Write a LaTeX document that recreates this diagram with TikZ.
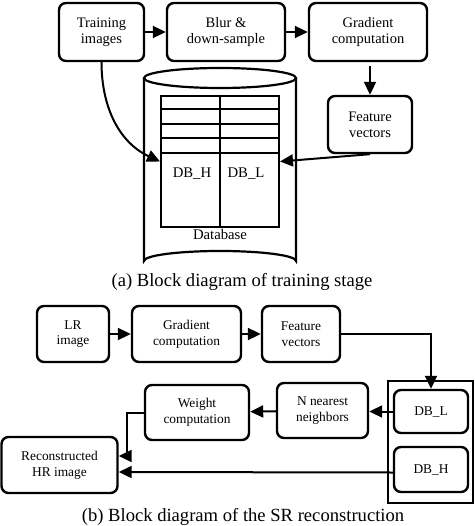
\documentclass[tikz,border=0pt]{standalone}
\usepackage{fontspec}
\setmainfont{Liberation Serif}
\usetikzlibrary{arrows.meta,positioning,calc}

\begin{document}
\begin{tikzpicture}[x=1pt, y=-1pt,
    blk/.style={draw, line width=2.4pt, rounded corners=7pt, align=center, inner sep=0pt, font=\fontsize{14.5}{16}\selectfont},
    sblk/.style={blk, font=\fontsize{13.4}{15.8}\selectfont},
    io/.style={font=\fontsize{14.7}{16}\selectfont, inner sep=0pt},
    captxt/.style={font=\fontsize{18.6}{20}\selectfont, inner sep=0pt},
    arr/.style={-{Triangle[length=13pt, width=12pt]}, line width=2pt}
]
\useasboundingbox (0,0) rectangle (474,526);

% Training stage
\node[blk, minimum width=85pt, minimum height=58pt] (ti) at (101.5,32) {Training\\images};
\node[blk, minimum width=118pt, minimum height=58pt] (bd) at (226,32) {Blur \&\\down-sample};
\node[blk, minimum width=118pt, minimum height=58pt] (gc) at (368,32) {Gradient\\computation};
\node[blk, minimum width=84pt, minimum height=57pt] (fv) at (370,124.5) {Feature\\vectors};
\draw[arr] (ti) -- (bd);
\draw[arr] (bd) -- (gc);
\draw[arr] ([yshift=-4pt]fv.north |- gc.south) -- (fv.north);

% database
\draw[line width=2.2pt] (144,78) -- (144,261) arc[start angle=180, end angle=360, x radius=76, y radius=10] -- (296,78);
\draw[line width=2.2pt] (220,78) ellipse[x radius=76, y radius=10];
\node[draw, line width=2pt, minimum width=118pt, minimum height=131pt, inner sep=0pt] (tbl) at (220,161.5) {};
\draw[line width=2pt] (tbl.north) -- (tbl.south);
\foreach \y in {109,124,138}
    \draw[line width=1.8pt] (tbl.west |- 0,\y) -- (tbl.east |- 0,\y);
\draw[line width=2.6pt] (tbl.west |- 0,153) -- (tbl.east |- 0,153);
\node[io] (dbh) at (192,174) {DB\_H};
\node[io] (dbl) at (246,174) {DB\_L};
\node[io] (db) at (220,234) {Database};
\draw[arr] (ti.south) to[out=-90, in=155] (tbl.west);
\draw[arr] (fv.south) -- (tbl.east);

\node[captxt] (capa) at (242,282) {(a) Block diagram of training stage};

% SR reconstruction
\node[sblk, minimum width=72pt, minimum height=56pt] (lr) at (73,334) {LR\\image};
\node[sblk, minimum width=109pt, minimum height=56pt] (gc2) at (186.5,334) {Gradient\\computation};
\node[sblk, minimum width=78pt, minimum height=56pt] (fv2) at (301,334) {Feature\\vectors};
\node[sblk, minimum width=74pt, minimum height=43pt] (dbl2) at (431,411.5) {DB\_L};
\node[sblk, minimum width=74pt, minimum height=45pt] (dbh2) at (431,469.5) {DB\_H};
\draw[line width=2.4pt] (388,381) rectangle (473,503);
\node[sblk, minimum width=91pt, minimum height=55pt] (nn) at (322.5,410.5) {N nearest\\neighbors};
\node[sblk, minimum width=104pt, minimum height=55pt] (wc) at (197,412.5) {Weight\\computation};
\node[sblk, minimum width=116pt, minimum height=56pt] (rec) at (59.5,465) {Reconstructed\\HR image};

\draw[arr] (lr) -- (gc2);
\draw[arr] (gc2) -- (fv2);
\draw[arr] (fv2.east) -| (dbl2.north);
\draw[arr] (dbl2.west) -- (nn.east |- dbl2.west);
\draw[arr] (nn) -- (wc);
\draw[arr] (wc.west) -- ++(-17,0) |- ([yshift=9pt]rec.east);
\draw[arr] ([yshift=-3pt]dbh2.west) -- (rec.east |- 0,472);

\node[captxt] (capb) at (243,517) {(b) Block diagram of the SR reconstruction};
\end{tikzpicture}
\end{document}
